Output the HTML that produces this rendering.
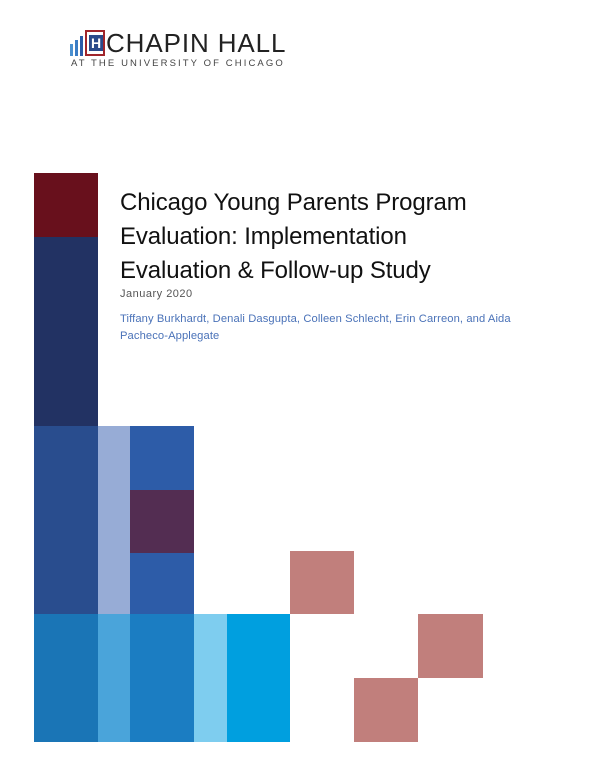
<!DOCTYPE html>
<html><head><style>
body{margin:0;width:600px;height:776px;background:#fff;position:relative;overflow:hidden;font-family:"Liberation Sans",sans-serif}
.b{position:absolute}
.t{position:absolute;left:120px;white-space:nowrap}
</style></head><body>
<!-- logo -->
<div class="b" style="left:70px;top:44px;width:3px;height:12px;background:#4a90d0"></div>
<div class="b" style="left:75px;top:40px;width:3px;height:16px;background:#3a7cc4"></div>
<div class="b" style="left:80px;top:36px;width:3px;height:20px;background:#2a5aa8"></div>
<div class="b" style="left:85px;top:30px;width:20px;height:26px;border:2px solid #a0252b;box-sizing:border-box"></div>
<div class="b" style="left:89px;top:35px;width:14px;height:16px;background:#2a4a8a;color:#fff;font-size:14px;line-height:16px;text-align:center;font-weight:bold">H</div>
<div class="b" style="left:106px;top:29px;font-size:26px;letter-spacing:0.9px;color:#222;line-height:28px">CHAPIN HALL</div>
<div class="b" style="left:71px;top:58px;font-size:9.5px;letter-spacing:2.1px;color:#444">AT THE UNIVERSITY OF CHICAGO</div>
<!-- blocks -->
<div class="b" style="left:34px;top:173px;width:64px;height:64px;background:#68101c"></div>
<div class="b" style="left:34px;top:237px;width:64px;height:189px;background:#223263"></div>
<div class="b" style="left:34px;top:426px;width:64px;height:188px;background:#294d8e"></div>
<div class="b" style="left:98px;top:426px;width:32px;height:188px;background:#97acd6"></div>
<div class="b" style="left:130px;top:426px;width:64px;height:64px;background:#2d5ca8"></div>
<div class="b" style="left:130px;top:490px;width:64px;height:63px;background:#532d52"></div>
<div class="b" style="left:130px;top:553px;width:64px;height:61px;background:#2d5ca8"></div>
<div class="b" style="left:34px;top:614px;width:64px;height:128px;background:#1a75b6"></div>
<div class="b" style="left:98px;top:614px;width:32px;height:128px;background:#4aa4da"></div>
<div class="b" style="left:130px;top:614px;width:64px;height:128px;background:#1b7dc2"></div>
<div class="b" style="left:194px;top:614px;width:33px;height:128px;background:#7ecdef"></div>
<div class="b" style="left:227px;top:614px;width:63px;height:128px;background:#009fdf"></div>
<div class="b" style="left:290px;top:551px;width:64px;height:63px;background:#c17f7c"></div>
<div class="b" style="left:418px;top:614px;width:65px;height:64px;background:#c17f7c"></div>
<div class="b" style="left:354px;top:678px;width:64px;height:64px;background:#c17f7c"></div>
<!-- text -->
<div class="t" style="top:186px;font-size:24px;letter-spacing:-0.1px;line-height:34px;color:#111">Chicago Young Parents Program<br>Evaluation: Implementation<br>Evaluation &amp; Follow-up Study</div>
<div class="t" style="top:288px;font-size:11px;color:#555;letter-spacing:0.5px">January 2020</div>
<div class="t" style="top:311px;font-size:11.2px;line-height:17px;color:#4a72b8;letter-spacing:0.1px">Tiffany Burkhardt, Denali Dasgupta, Colleen Schlecht, Erin Carreon, and Aida<br>Pacheco-Applegate</div>
</body></html>
